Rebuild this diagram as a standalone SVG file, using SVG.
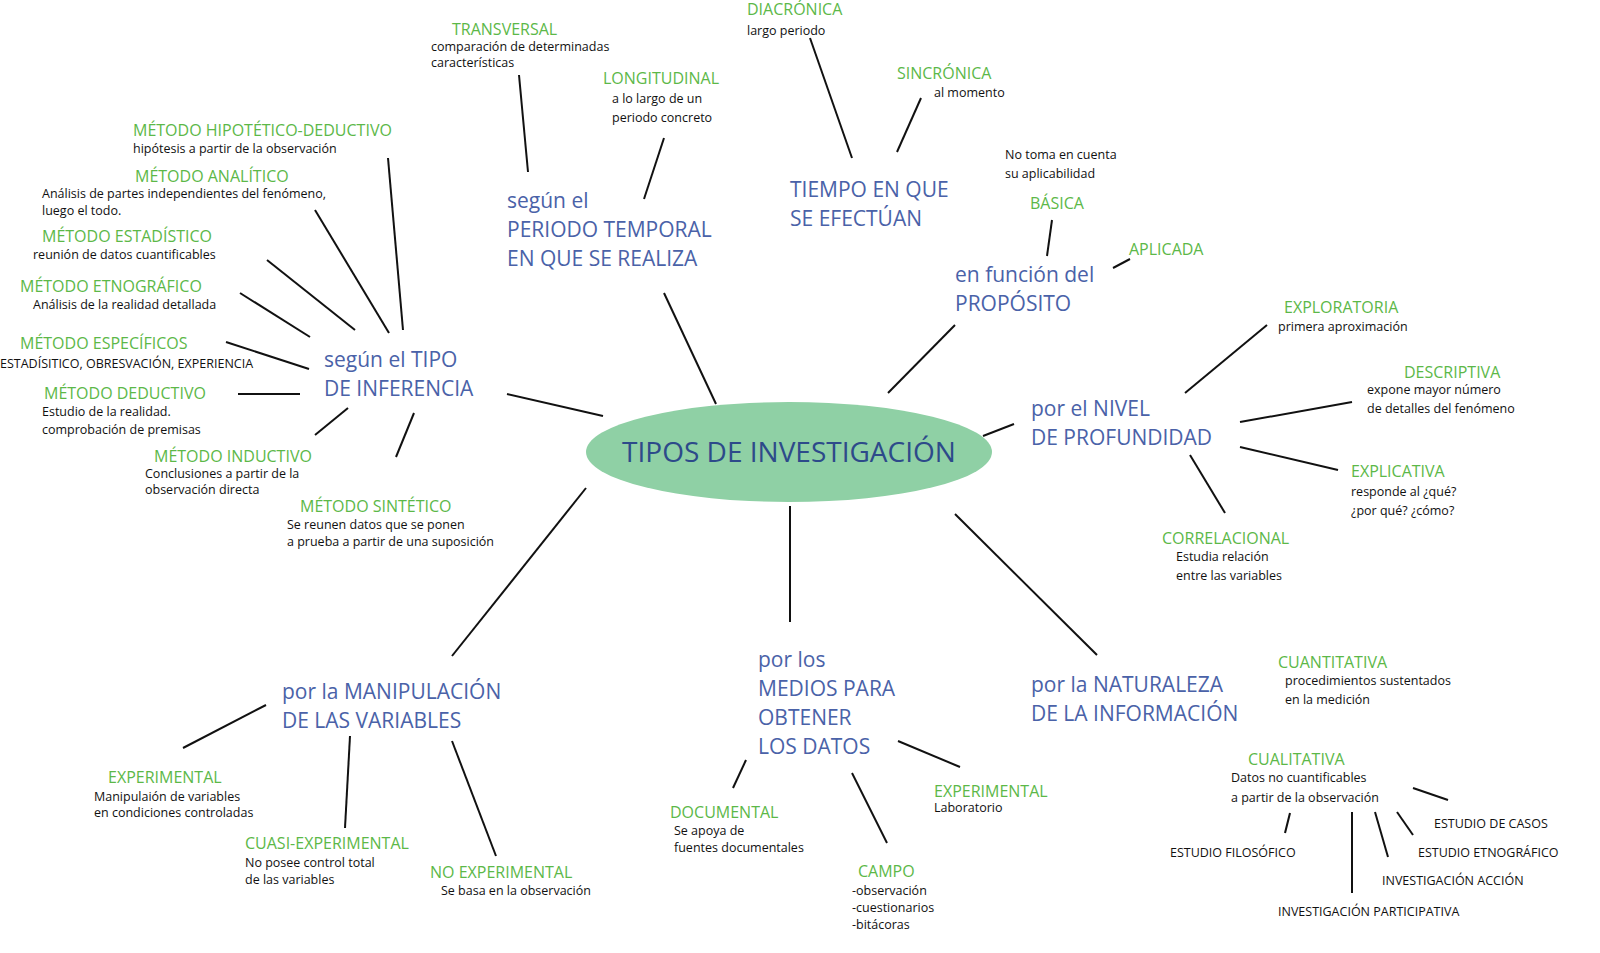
<svg xmlns="http://www.w3.org/2000/svg" width="1600" height="953" viewBox="0 0 1600 953">
<style>
text{font-family:"Open Sans","Liberation Sans",sans-serif}
.h{fill:#4a62a8;font-size:21px}
.g{fill:#5cb848;font-size:16px}
.s{fill:#111;font-size:12.5px}
.c line{stroke:#111;stroke-width:2}
</style>
<rect width="1600" height="953" fill="#fff"/>
<g class="c">
<line x1="603" y1="416" x2="507" y2="394"/><line x1="716" y1="404" x2="664" y2="293"/>
<line x1="888" y1="393" x2="955" y2="325"/><line x1="983" y1="436" x2="1014" y2="424"/>
<line x1="955" y1="514" x2="1097" y2="655"/><line x1="790" y1="506" x2="790" y2="622"/>
<line x1="586" y1="488" x2="452" y2="656"/>
<line x1="528" y1="172" x2="519" y2="75"/><line x1="644" y1="199" x2="664" y2="138"/>
<line x1="852" y1="158" x2="810" y2="38"/><line x1="897" y1="152" x2="921" y2="98"/>
<line x1="1047" y1="256" x2="1052" y2="220"/><line x1="1113" y1="268" x2="1130" y2="259"/>
<line x1="1185" y1="393" x2="1267" y2="325"/><line x1="1240" y1="422" x2="1352" y2="402"/>
<line x1="1240" y1="447" x2="1338" y2="470"/><line x1="1190" y1="455" x2="1225" y2="513"/>
<line x1="898" y1="741" x2="960" y2="767"/><line x1="733" y1="788" x2="746" y2="760"/>
<line x1="852" y1="773" x2="887" y2="843"/>
<line x1="266" y1="705" x2="183" y2="748"/><line x1="350" y1="736" x2="345" y2="828"/>
<line x1="452" y1="741" x2="496" y2="856"/>
<line x1="1413" y1="788" x2="1448" y2="800"/><line x1="1285" y1="833" x2="1290" y2="813"/>
<line x1="1352" y1="812" x2="1352" y2="893"/><line x1="1375" y1="812" x2="1388" y2="857"/>
<line x1="1397" y1="812" x2="1413" y2="835"/>
<line x1="389" y1="333" x2="315" y2="210"/><line x1="403" y1="330" x2="388" y2="158"/>
<line x1="355" y1="330" x2="267" y2="260"/><line x1="310" y1="337" x2="240" y2="293"/>
<line x1="309" y1="369" x2="226" y2="342"/><line x1="300" y1="394" x2="238" y2="394"/>
<line x1="315" y1="435" x2="348" y2="408"/><line x1="396" y1="457" x2="414" y2="413"/>
</g>
<g id="center"><ellipse cx="789" cy="452" rx="203" ry="50" fill="#8fd0a5"/>
<text x="789" y="462" text-anchor="middle" fill="#2d4a8a" font-size="28">TIPOS DE INVESTIGACIÓN</text></g>
<g id="periodo"><text class="h" x="507" y="208">según el</text><text class="h" x="507" y="237">PERIODO TEMPORAL</text><text class="h" x="507" y="266">EN QUE SE REALIZA</text>
<text class="g" x="452" y="35">TRANSVERSAL</text><text class="s" x="431" y="51">comparación de determinadas</text><text class="s" x="431" y="67">características</text>
<text class="g" x="603" y="84">LONGITUDINAL</text><text class="s" x="612" y="103" font-size="14">a lo largo de un</text><text class="s" x="612" y="122" font-size="14">periodo concreto</text></g>
<g id="tiempo"><text class="h" x="790" y="197">TIEMPO EN QUE</text><text class="h" x="790" y="226">SE EFECTÚAN</text>
<text class="g" x="747" y="15">DIACRÓNICA</text><text class="s" x="747" y="35">largo periodo</text>
<text class="g" x="897" y="79">SINCRÓNICA</text><text class="s" x="934" y="97">al momento</text></g>
<g id="proposito"><text class="h" x="955" y="282">en función del</text><text class="h" x="955" y="311">PROPÓSITO</text>
<text class="s" x="1005" y="159" font-size="14">No toma en cuenta</text><text class="s" x="1005" y="178" font-size="14">su aplicabilidad</text>
<text class="g" x="1030" y="209">BÁSICA</text><text class="g" x="1129" y="255">APLICADA</text></g>
<g id="nivel"><text class="h" x="1031" y="416">por el NIVEL</text><text class="h" x="1031" y="445">DE PROFUNDIDAD</text>
<text class="g" x="1284" y="313">EXPLORATORIA</text><text class="s" x="1278" y="331" font-size="14">primera aproximación</text>
<text class="g" x="1404" y="378">DESCRIPTIVA</text><text class="s" x="1367" y="394" font-size="14">expone mayor número</text><text class="s" x="1367" y="413" font-size="14">de detalles del fenómeno</text>
<text class="g" x="1351" y="477">EXPLICATIVA</text><text class="s" x="1351" y="496" font-size="14">responde al ¿qué?</text><text class="s" x="1351" y="515" font-size="14">¿por qué? ¿cómo?</text>
<text class="g" x="1162" y="544">CORRELACIONAL</text><text class="s" x="1176" y="561" font-size="14">Estudia relación</text><text class="s" x="1176" y="580" font-size="14">entre las variables</text></g>
<g id="naturaleza"><text class="h" x="1031" y="692">por la NATURALEZA</text><text class="h" x="1031" y="721">DE LA INFORMACIÓN</text>
<text class="g" x="1278" y="668">CUANTITATIVA</text><text class="s" x="1285" y="685" font-size="14">procedimientos sustentados</text><text class="s" x="1285" y="704" font-size="14">en la medición</text>
<text class="g" x="1248" y="765">CUALITATIVA</text><text class="s" x="1231" y="782" font-size="14">Datos no cuantificables</text><text class="s" x="1231" y="802" font-size="14">a partir de la observación</text>
<text class="s" x="1434" y="828">ESTUDIO DE CASOS</text><text class="s" x="1170" y="857">ESTUDIO FILOSÓFICO</text><text class="s" x="1418" y="857">ESTUDIO ETNOGRÁFICO</text>
<text class="s" x="1382" y="885">INVESTIGACIÓN ACCIÓN</text><text class="s" x="1278" y="916">INVESTIGACIÓN PARTICIPATIVA</text></g>
<g id="medios"><text class="h" x="758" y="667">por los</text><text class="h" x="758" y="696">MEDIOS PARA</text><text class="h" x="758" y="725">OBTENER</text><text class="h" x="758" y="754">LOS DATOS</text>
<text class="g" x="934" y="797">EXPERIMENTAL</text><text class="s" x="934" y="812">Laboratorio</text>
<text class="g" x="670" y="818">DOCUMENTAL</text><text class="s" x="674" y="835">Se apoya de</text><text class="s" x="674" y="852">fuentes documentales</text>
<text class="g" x="858" y="877">CAMPO</text><text class="s" x="852" y="895">-observación</text><text class="s" x="852" y="912">-cuestionarios</text><text class="s" x="852" y="929">-bitácoras</text></g>
<g id="manipulacion"><text class="h" x="282" y="699">por la MANIPULACIÓN</text><text class="h" x="282" y="728">DE LAS VARIABLES</text>
<text class="g" x="108" y="783">EXPERIMENTAL</text><text class="s" x="94" y="801">Manipulaión de variables</text><text class="s" x="94" y="817">en condiciones controladas</text>
<text class="g" x="245" y="849">CUASI-EXPERIMENTAL</text><text class="s" x="245" y="867">No posee control total</text><text class="s" x="245" y="884">de las variables</text>
<text class="g" x="430" y="878">NO EXPERIMENTAL</text><text class="s" x="441" y="895">Se basa en la observación</text></g>
<g id="inferencia"><text class="h" x="324" y="367">según el TIPO</text><text class="h" x="324" y="396">DE INFERENCIA</text>
<text class="g" x="133" y="136">MÉTODO HIPOTÉTICO-DEDUCTIVO</text><text class="s" x="133" y="153">hipótesis a partir de la observación</text>
<text class="g" x="135" y="182">MÉTODO ANALÍTICO</text><text class="s" x="42" y="198">Análisis de partes independientes del fenómeno,</text><text class="s" x="42" y="215">luego el todo.</text>
<text class="g" x="42" y="242">MÉTODO ESTADÍSTICO</text><text class="s" x="33" y="259">reunión de datos cuantificables</text>
<text class="g" x="20" y="292">MÉTODO ETNOGRÁFICO</text><text class="s" x="33" y="309">Análisis de la realidad detallada</text>
<text class="g" x="20" y="349">MÉTODO ESPECÍFICOS</text><text class="s" x="0" y="368" font-size="11.5">ESTADÍSITICO, OBRESVACIÓN, EXPERIENCIA</text>
<text class="g" x="44" y="399">MÉTODO DEDUCTIVO</text><text class="s" x="42" y="416">Estudio de la realidad.</text><text class="s" x="42" y="434">comprobación de premisas</text>
<text class="g" x="154" y="462">MÉTODO INDUCTIVO</text><text class="s" x="145" y="478">Conclusiones a partir de la</text><text class="s" x="145" y="494">observación directa</text>
<text class="g" x="300" y="512">MÉTODO SINTÉTICO</text><text class="s" x="287" y="529">Se reunen datos que se ponen</text><text class="s" x="287" y="546">a prueba a partir de una suposición</text></g>
</svg>
